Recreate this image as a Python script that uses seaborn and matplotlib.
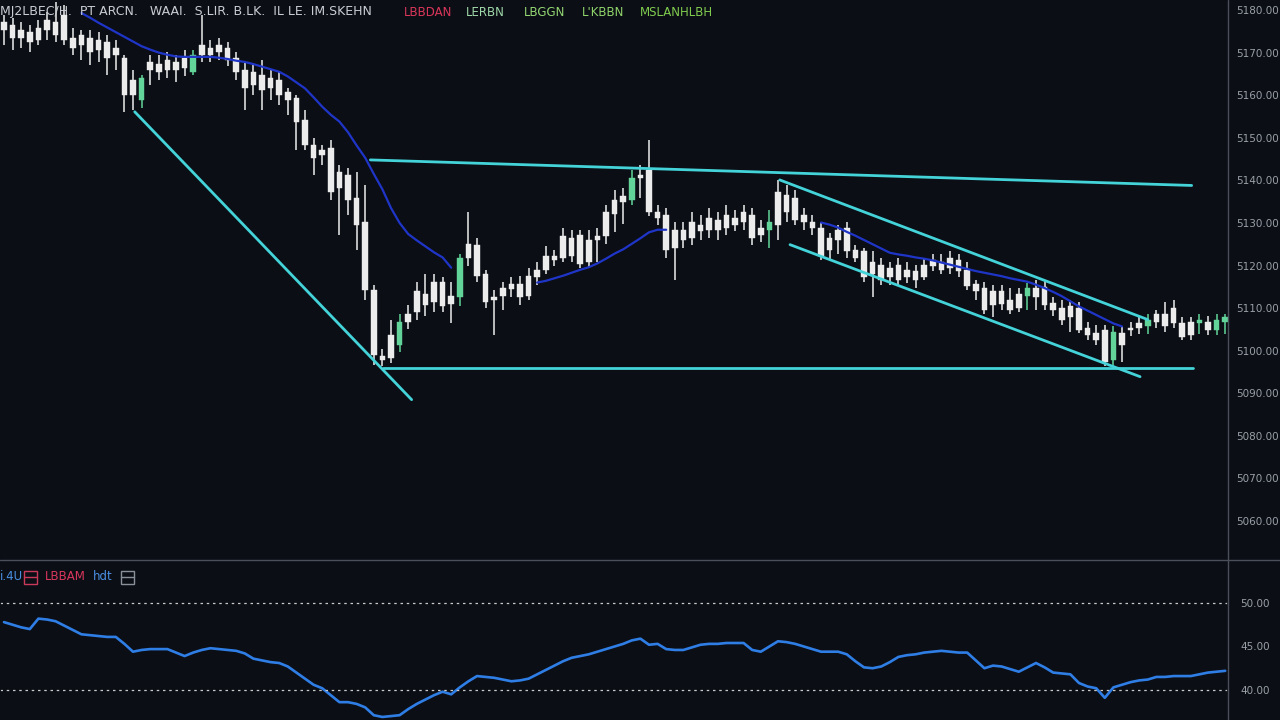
import matplotlib.pyplot as plt
import numpy as np
import pandas as pd
import seaborn as sns
from matplotlib.lines import Line2D
from matplotlib.patches import Rectangle

# ---- candle data ----
opens = [5175.3, 5176.5, 5173.5, 5174.9, 5173.0, 5175.3, 5177.2, 5178.9, 5173.5, 5171.8,
         5173.5, 5170.6, 5172.5, 5169.5, 5168.8, 5160.1, 5158.9, 5166.0, 5167.4, 5166.0,
         5167.9, 5166.4, 5165.5, 5169.5, 5171.1, 5170.2, 5171.1, 5168.8, 5166.0, 5162.4,
         5164.8, 5161.7, 5163.6, 5160.8, 5159.4, 5154.2, 5148.4, 5146.0, 5147.7, 5138.3,
         5141.3, 5135.9, 5130.3, 5114.3, 5098.8, 5098.4, 5101.4, 5106.8, 5109.2, 5113.2,
         5111.5, 5116.2, 5111.0, 5112.5, 5121.8, 5124.9, 5117.9, 5112.0, 5112.9, 5114.6,
         5115.7, 5112.9, 5117.2, 5119.0, 5122.3, 5121.8, 5126.5, 5127.2, 5120.9, 5126.1,
         5127.0, 5132.2, 5135.0, 5135.5, 5140.6, 5142.5, 5132.6, 5131.9, 5124.2, 5128.4,
         5126.5, 5129.6, 5128.4, 5130.8, 5128.9, 5131.2, 5130.3, 5131.9, 5127.2, 5128.4,
         5129.6, 5136.6, 5135.9, 5131.9, 5130.3, 5128.9, 5123.7, 5126.1, 5128.9, 5123.7,
         5123.3, 5117.9, 5120.2, 5117.2, 5120.2, 5117.2, 5118.6, 5117.2, 5120.0, 5120.9,
         5119.5, 5121.4, 5119.0, 5115.7, 5114.8, 5110.8, 5113.9, 5112.0, 5110.1, 5112.9,
         5114.8, 5115.0, 5111.3, 5110.1, 5107.8, 5110.1, 5105.4, 5104.2, 5104.9, 5097.9,
         5104.2, 5104.9, 5105.4, 5105.9, 5106.8, 5108.7, 5106.6, 5106.6, 5103.8, 5106.4,
         5106.8, 5104.9, 5106.8]
closes = [5177.2, 5173.5, 5175.3, 5172.5, 5175.8, 5177.7, 5174.2, 5173.0, 5171.1, 5174.2,
          5170.2, 5173.0, 5168.8, 5171.1, 5160.1, 5163.6, 5164.1, 5167.9, 5165.5, 5168.3,
          5166.0, 5168.8, 5169.5, 5171.8, 5169.5, 5171.8, 5168.3, 5165.5, 5161.7, 5165.5,
          5161.3, 5164.1, 5160.1, 5158.9, 5153.8, 5148.4, 5145.3, 5147.2, 5137.3, 5142.0,
          5135.5, 5129.6, 5114.3, 5099.1, 5097.9, 5103.8, 5106.8, 5108.7, 5113.9, 5110.8,
          5116.2, 5110.6, 5112.9, 5121.8, 5125.1, 5117.6, 5111.5, 5112.7, 5114.8, 5115.7,
          5112.5, 5117.6, 5119.0, 5122.3, 5121.4, 5127.0, 5122.3, 5120.4, 5126.1, 5127.0,
          5132.6, 5135.5, 5136.4, 5140.6, 5141.3, 5132.6, 5131.2, 5123.7, 5128.4, 5126.1,
          5130.3, 5128.0, 5131.2, 5128.4, 5131.9, 5129.6, 5132.6, 5126.5, 5128.9, 5130.3,
          5137.3, 5132.6, 5130.8, 5130.3, 5128.9, 5122.3, 5126.5, 5128.4, 5123.3, 5121.8,
          5117.4, 5120.9, 5116.7, 5119.5, 5116.7, 5119.0, 5116.7, 5120.2, 5121.4, 5119.0,
          5121.8, 5118.6, 5115.3, 5113.9, 5109.6, 5113.9, 5111.0, 5109.6, 5113.2, 5114.8,
          5112.5, 5110.8, 5109.6, 5107.3, 5110.6, 5104.9, 5103.8, 5102.6, 5097.4, 5104.5,
          5101.4, 5105.4, 5106.4, 5107.1, 5108.5, 5105.9, 5110.1, 5103.3, 5106.8, 5107.3,
          5104.9, 5107.3, 5107.8]
highs = [5178.9, 5178.2, 5177.2, 5176.5, 5177.7, 5179.6, 5181.9, 5181.2, 5175.8, 5175.3,
         5175.3, 5174.9, 5174.2, 5173.0, 5169.5, 5165.9, 5164.8, 5169.5, 5169.5, 5170.2,
         5169.5, 5170.6, 5170.6, 5178.9, 5173.0, 5173.5, 5172.5, 5170.2, 5167.9, 5167.1,
         5168.3, 5166.0, 5165.5, 5161.7, 5160.1, 5156.6, 5150.0, 5148.4, 5149.5, 5143.7,
         5143.0, 5142.0, 5139.0, 5115.5, 5100.3, 5107.3, 5108.5, 5110.8, 5116.2, 5117.9,
         5117.9, 5117.2, 5116.2, 5122.6, 5132.6, 5126.5, 5119.0, 5114.3, 5116.2, 5117.2,
         5117.6, 5119.5, 5120.9, 5124.7, 5123.7, 5128.9, 5128.4, 5128.4, 5128.4, 5128.9,
         5134.3, 5137.8, 5138.3, 5142.5, 5143.7, 5149.5, 5134.3, 5133.6, 5130.3, 5130.3,
         5132.6, 5131.9, 5133.6, 5132.6, 5134.3, 5133.1, 5134.3, 5133.6, 5130.8, 5133.1,
         5140.1, 5139.0, 5137.8, 5133.6, 5131.9, 5130.3, 5127.7, 5129.6, 5130.3, 5124.9,
         5124.2, 5123.3, 5121.8, 5120.9, 5121.8, 5120.9, 5120.2, 5121.8, 5122.6, 5122.6,
         5123.3, 5122.6, 5120.9, 5116.7, 5116.2, 5115.5, 5115.5, 5114.8, 5114.8, 5116.0,
         5116.7, 5116.7, 5112.5, 5112.0, 5112.0, 5111.5, 5106.8, 5106.1, 5106.1, 5105.9,
         5105.9, 5106.8, 5107.8, 5108.5, 5109.6, 5111.5, 5112.0, 5107.8, 5107.8, 5108.5,
         5108.2, 5108.5, 5108.5]
lows = [5171.8, 5170.6, 5171.1, 5170.2, 5171.8, 5173.0, 5172.5, 5171.8, 5169.5, 5168.3,
        5167.1, 5167.9, 5164.8, 5165.9, 5156.1, 5156.6, 5157.1, 5162.4, 5163.6, 5164.1,
        5163.2, 5164.6, 5164.8, 5167.9, 5167.9, 5168.3, 5166.9, 5163.6, 5156.6, 5160.1,
        5156.6, 5158.9, 5157.8, 5155.4, 5147.2, 5147.2, 5141.3, 5143.7, 5135.5, 5127.2,
        5131.9, 5123.7, 5112.0, 5096.7, 5096.5, 5097.2, 5099.8, 5105.0, 5107.3, 5108.2,
        5109.2, 5109.2, 5106.6, 5110.6, 5120.0, 5116.2, 5110.1, 5103.8, 5109.6, 5112.5,
        5110.8, 5112.0, 5115.5, 5117.9, 5120.0, 5120.9, 5120.9, 5119.5, 5119.5, 5120.9,
        5125.1, 5127.9, 5129.8, 5134.3, 5135.9, 5131.7, 5129.6, 5121.8, 5116.7, 5124.2,
        5124.9, 5126.1, 5126.5, 5126.1, 5127.2, 5128.0, 5128.4, 5124.9, 5125.6, 5124.2,
        5126.1, 5130.3, 5129.6, 5128.4, 5127.2, 5121.4, 5121.4, 5122.6, 5121.8, 5120.9,
        5116.2, 5112.7, 5115.5, 5115.5, 5115.3, 5116.0, 5114.8, 5116.7, 5118.6, 5117.9,
        5118.1, 5117.2, 5114.3, 5112.0, 5108.7, 5107.8, 5109.6, 5108.7, 5109.2, 5109.6,
        5109.6, 5109.6, 5108.2, 5106.1, 5104.5, 5104.2, 5102.6, 5101.4, 5096.5, 5096.5,
        5097.4, 5103.5, 5104.0, 5104.0, 5105.4, 5104.5, 5105.4, 5102.6, 5102.6, 5104.0,
        5103.8, 5103.8, 5104.0]
green_idx = [16, 22, 46, 53, 73, 89, 119, 129, 133, 139, 141, 142]

# moving average, drawn in three separate pieces
ma_start = [9, 62, 95]
ma_segments = [
    [5179.3, 5178.2, 5177.0, 5175.9, 5174.8, 5173.7, 5172.6, 5171.5, 5170.7, 5170.0,
     5169.5, 5169.1, 5169.0, 5169.0, 5169.0, 5169.0, 5168.8, 5168.5, 5168.1, 5167.8,
     5167.3, 5166.7, 5166.1, 5165.5, 5164.4, 5163.0, 5161.6, 5159.5, 5157.3, 5155.4,
     5153.8, 5151.3, 5148.2, 5145.3, 5141.5, 5137.9, 5133.5, 5130.0, 5127.4, 5125.9,
     5124.5, 5123.1, 5121.9, 5119.5],
    [5116.0, 5116.4, 5117.0, 5117.6, 5118.3, 5119.0, 5119.6, 5120.5, 5121.6, 5122.8,
     5123.8, 5125.1, 5126.4, 5127.8, 5128.4, 5128.4],
    [5130.1, 5129.6, 5128.9, 5127.9, 5127.0, 5126.0, 5125.0, 5124.0, 5123.0, 5122.6,
     5122.3, 5121.9, 5121.6, 5121.2, 5120.7, 5120.2, 5119.7, 5119.2, 5118.7, 5118.3,
     5117.9, 5117.5, 5117.0, 5116.6, 5116.2, 5115.5, 5114.7, 5113.8, 5112.8, 5111.6,
     5110.4, 5109.4, 5108.4, 5107.4, 5106.4, 5105.7],
]

# trend lines: (start index, start price, end index, end price)
trend_lines = [
    (15.2, 5156.1, 47.4, 5088.5),
    (42.6, 5144.8, 138.1, 5138.8),
    (44.1, 5096.0, 138.3, 5096.0),
    (90.2, 5140.1, 133.0, 5107.3),
    (91.4, 5124.9, 132.1, 5093.9),
]

# oscillator in the lower pane
osc_vals = [47.8, 47.5, 47.2, 47.0, 48.2, 48.1, 47.9, 47.4, 46.9, 46.4,
            46.3, 46.2, 46.1, 46.1, 45.3, 44.4, 44.6, 44.7, 44.7, 44.7,
            44.3, 43.9, 44.3, 44.6, 44.8, 44.7, 44.6, 44.5, 44.2, 43.6,
            43.4, 43.2, 43.1, 42.7, 42.0, 41.3, 40.6, 40.2, 39.4, 38.6,
            38.6, 38.4, 38.0, 37.1, 36.9, 37.0, 37.1, 37.8, 38.4, 38.9,
            39.4, 39.8, 39.5, 40.3, 41.0, 41.6, 41.5, 41.4, 41.2, 41.0,
            41.1, 41.3, 41.8, 42.3, 42.8, 43.3, 43.7, 43.9, 44.1, 44.4,
            44.7, 45.0, 45.3, 45.7, 45.9, 45.2, 45.3, 44.7, 44.6, 44.6,
            44.9, 45.2, 45.3, 45.3, 45.4, 45.4, 45.4, 44.6, 44.4, 45.0,
            45.6, 45.5, 45.3, 45.0, 44.7, 44.4, 44.4, 44.4, 44.1, 43.3,
            42.6, 42.5, 42.7, 43.2, 43.8, 44.0, 44.1, 44.3, 44.4, 44.5,
            44.4, 44.3, 44.3, 43.4, 42.5, 42.8, 42.7, 42.4, 42.1, 42.6,
            43.1, 42.6, 42.0, 41.9, 41.8, 40.8, 40.4, 40.2, 39.1, 40.3,
            40.6, 40.9, 41.1, 41.2, 41.5, 41.5, 41.6, 41.6, 41.6, 41.8,
            42.0, 42.1, 42.2]

price_ticks = [5180, 5170, 5160, 5150, 5140, 5130, 5120, 5110, 5100, 5090, 5080, 5070, 5060]
osc_ticks = [50, 45, 40]

top_text = "MJ2LBEC/H.  PT ARCN.   WAAI.  S.LIR. B.LK.  IL LE. IM.SKEHN"
top_tags = [("LBBDAN", "#d9365a"), ("LERBN", "#9fd8a8"), ("LBGGN", "#93d672"),
            ("L'KBBN", "#8fd36a"), ("MSLANHLBH", "#7fcb4e")]

BG = "#0b0e15"
sns.set_theme(style="dark", rc={"axes.facecolor": BG, "figure.facecolor": BG,
                                "axes.edgecolor": BG, "grid.color": BG})
plt.rcParams["font.family"] = ["DejaVu Sans"]

df = pd.DataFrame({"o": opens, "c": closes, "h": highs, "l": lows})
df["idx"] = np.arange(len(df))
df["color"] = "#ececec"
df.loc[green_idx, "color"] = "#62d49a"

fig = plt.figure(figsize=(12.8, 7.2), dpi=100)
W, H = 1280, 720
ax = fig.add_axes([0, 1 - 560 / H, 1228 / W, 560 / H])
ax2 = fig.add_axes([0, 0, 1228 / W, 160 / H])
xlim = (-4 / 8.6, 1224 / 8.6)

# candles
ax.vlines(df["idx"], df["l"], df["h"], colors=df["color"], linewidth=1.1, zorder=3)
body = (df["c"] - df["o"]).abs().clip(lower=0.5)
ax.bar(df["idx"], body, bottom=df[["o", "c"]].min(axis=1), width=0.66,
       color=df["color"], edgecolor=df["color"], linewidth=0.3, zorder=4)

# moving average
ma_rows = []
for k, (s, seg) in enumerate(zip(ma_start, ma_segments)):
    for j, v in enumerate(seg):
        ma_rows.append({"idx": s + j, "ma": v, "seg": k})
ma_df = pd.DataFrame(ma_rows)
sns.lineplot(data=ma_df, x="idx", y="ma", units="seg", estimator=None,
             color="#1f35c8", linewidth=1.6, ax=ax, zorder=5)

for x0, y0, x1, y1 in trend_lines:
    ax.plot([x0, x1], [y0, y1], color="#43d3d8", linewidth=2.0, zorder=6,
            solid_capstyle="round")

ax.set_xlim(*xlim)
ax.set_ylim(5050.85, 5182.35)
ax.yaxis.tick_right()
ax.set_yticks(price_ticks)
ax.set_yticklabels([f"{v:.2f}" for v in price_ticks])
ax.tick_params(axis="y", length=0, pad=6, labelsize=7.5, labelcolor="#9aa0a8")
ax.set_xticks([])
ax.set_xlabel("")
ax.set_ylabel("")
ax.grid(False)

# lower pane
osc_df = pd.DataFrame({"idx": np.arange(len(osc_vals)), "v": osc_vals})
sns.lineplot(data=osc_df, x="idx", y="v", color="#2f7ee6", linewidth=1.9, ax=ax2)
for lvl in (osc_ticks[0], osc_ticks[-1]):
    ax2.axhline(lvl, color="#c9c9c9", linestyle=(0, (2, 3)), linewidth=0.9)
ax2.set_xlim(*xlim)
ax2.set_ylim(36.55, 54.94)
ax2.yaxis.tick_right()
ax2.set_yticks(osc_ticks)
ax2.set_yticklabels([f"{v:.2f}" for v in osc_ticks])
ax2.tick_params(axis="y", length=0, pad=9, labelsize=7.5, labelcolor="#9aa0a8")
ax2.set_xticks([])
ax2.set_xlabel("")
ax2.set_ylabel("")
ax2.grid(False)

# separators
fig.add_artist(Line2D([1228 / W, 1228 / W], [0, 1], color="#4a4f5a", linewidth=1.0))
fig.add_artist(Line2D([0, 1], [1 - 560 / H, 1 - 560 / H], color="#4a4f5a", linewidth=1.0))

# header texts
fig.text(0.0, 1 - 12 / H, top_text, color="#c9cdd3", fontsize=9, va="center", ha="left")
for (txt, col), xp in zip(top_tags, [404, 466, 524, 582, 640]):
    fig.text(xp / W, 1 - 12 / H, txt, color=col, fontsize=8.5, va="center", ha="left")

# lower pane legend
ly = 1 - 577 / H
fig.text(0.0, ly, "i.4U", color="#4a90e2", fontsize=8.5, va="center", ha="left")
for x0, col in [(24, "#c93a5a"), (121, "#8a8f99")]:
    fig.add_artist(Rectangle((x0 / W, 1 - 584 / H), 13 / W, 13 / H, transform=fig.transFigure,
                             fill=False, edgecolor=col, linewidth=1.0))
    fig.add_artist(Line2D([x0 / W, (x0 + 13) / W], [ly, ly], color=col, linewidth=1.0))
fig.text(45 / W, ly, "LBBAM", color="#d8365c", fontsize=8.5, va="center", ha="left")
fig.text(93 / W, ly, "hdt", color="#4a90e2", fontsize=8.5, va="center", ha="left")

fig.savefig("out.png", dpi=100, facecolor=BG)
